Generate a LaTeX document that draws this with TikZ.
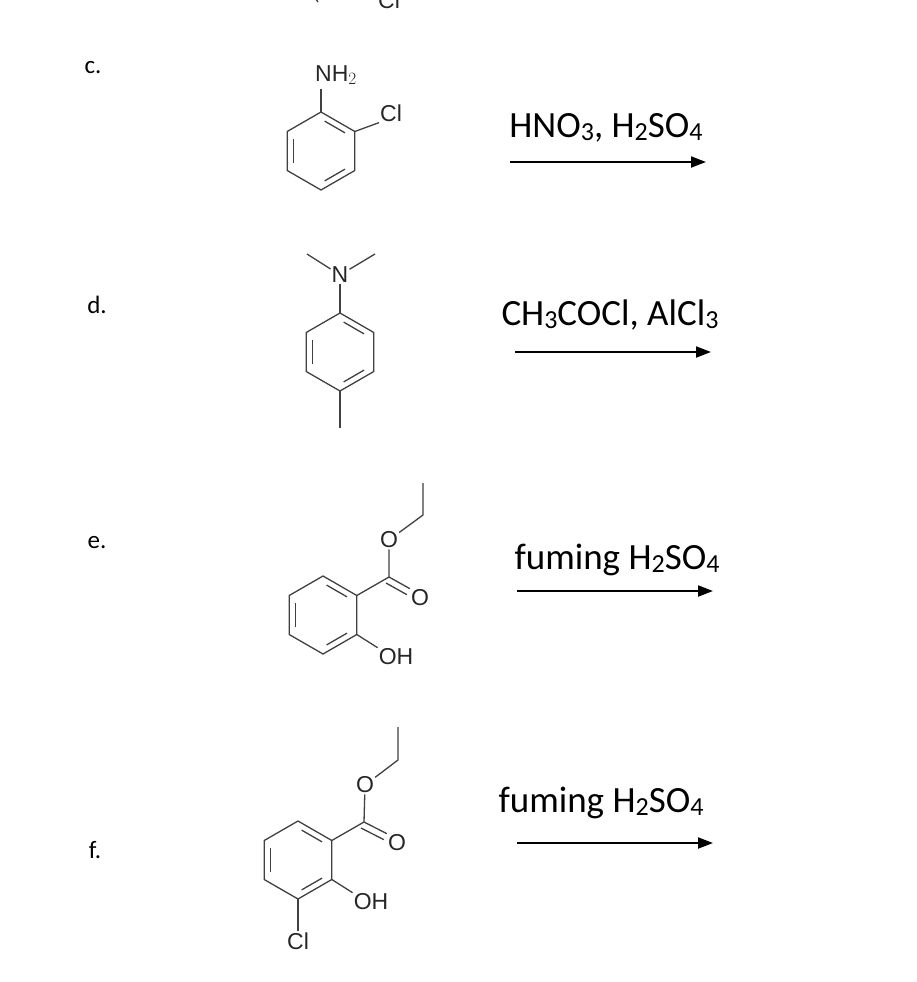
\documentclass[tikz,border=0pt]{standalone}
\usepackage{fontspec}
\setmainfont{Carlito}
\newfontfamily\atomf{Liberation Sans}
\usetikzlibrary{calc,arrows.meta}
\newcommand\mybenz[3]{%
\begin{scope}[shift={(#2,#3)}]
\coordinate (#1t) at (0,-39); \coordinate (#1ur) at (33.8,-19.5);
\coordinate (#1lr) at (33.8,19.5); \coordinate (#1b) at (0,39);
\coordinate (#1ll) at (-33.8,19.5); \coordinate (#1ul) at (-33.8,-19.5);
\draw[bond] (#1t)--(#1ur)--(#1lr)--(#1b)--(#1ll)--(#1ul)--cycle;
\coordinate (#1it) at (0,-32); \coordinate (#1iur) at (27.7,-16);
\coordinate (#1ilr) at (27.7,16); \coordinate (#1ib) at (0,32);
\coordinate (#1ill) at (-27.7,16); \coordinate (#1iul) at (-27.7,-16);
\draw[bond] ($(#1it)!0.13!(#1iur)$)--($(#1it)!0.87!(#1iur)$);
\draw[bond] ($(#1ilr)!0.13!(#1ib)$)--($(#1ilr)!0.87!(#1ib)$);
\draw[bond] ($(#1ill)!0.13!(#1iul)$)--($(#1ill)!0.87!(#1iul)$);
\end{scope}}
\newcommand\sbs[1]{\raisebox{-3pt}{\fontsize{26}{26}\selectfont #1}}
\begin{document}
\begin{tikzpicture}[x=1pt,y=-1pt,
  bond/.style={line width=1.3pt,draw=black!75},
  atom/.style={font=\atomf\fontsize{23}{23}\selectfont,inner sep=1pt,text=black!85},
  lab/.style={font=\fontsize{25}{25}\selectfont},
  reag/.style={font=\fontsize{37}{37}\selectfont},
  rxn/.style={line width=2pt,-{Triangle[length=15pt,width=11pt]}}]
\useasboundingbox (0,0) rectangle (916,982);
\begin{scope}
\clip (0,0) rectangle (916,982);
\node[atom,anchor=base] (topcl) at (389,9) {Cl};
\draw[bond] (312,-6)--(318,2);
\end{scope}
% labels
\node[lab] (lc) at (93,68) {c.};
\node[lab] (ld) at (97,305) {d.};
\node[lab] (le) at (97,543) {e.};
\node[lab] (lf) at (95,850) {f.};
% c
\mybenz{c}{321}{151}
\node[atom] (cn) at (336,75) {NH$_2$};
\draw[bond] (ct)--(321,89);
\node[atom] (ccl) at (391,113) {Cl};
\draw[bond] (cur)--(ccl.south west);
% d
\mybenz{d}{340}{352}
\node[atom] (dn) at (340,275) {N};
\draw[bond] (dt)--(dn);
\draw[bond] (dn)--(307,254);
\draw[bond] (dn)--(375,254);
\draw[bond] (db)--(340,428);
% e
\mybenz{e}{323}{615}
\coordinate (ec) at (389,577);
\node[atom] (eo1) at (389,540) {O};
\node[atom] (eo2) at (420,598) {O};
\node[atom] (eoh) at (396,657) {OH};
\draw[bond] (eur)--(ec)--(eo1);
\draw[bond] (eo1)--(423,515)--(423,483);
\draw[bond] (ec)--(eo2.north west);
\draw[bond] ($(ec)+(-3,6)$)--($(eo2.north west)+(-3,6)$);
\draw[bond] (elr)--(eoh.north west);
% f
\mybenz{f}{298}{860}
\coordinate (fc) at (364,822);
\node[atom] (fo1) at (365,785) {O};
\node[atom] (fo2) at (397,843) {O};
\node[atom] (foh) at (371,902) {OH};
\node[atom] (fcl) at (298,941) {Cl};
\draw[bond] (fur)--(fc)--(fo1);
\draw[bond] (fo1)--(398,760)--(398,727);
\draw[bond] (fc)--(fo2.north west);
\draw[bond] ($(fc)+(-3,6)$)--($(fo2.north west)+(-3,6)$);
\draw[bond] (flr)--(foh.north west);
\draw[bond] (fb)--(fcl.north);
% reagents
\node[reag] (r1) at (606,128) {HNO\sbs{3}, H\sbs{2}SO\sbs{4}};
\coordinate (a1s) at (510,162); \coordinate (a1e) at (706,162);
\draw[rxn] (a1s)--(a1e);
\node[reag] (r2) at (610,315) {CH\sbs{3}COCl, AlCl\sbs{3}};
\coordinate (a2s) at (515,352); \coordinate (a2e) at (711,352);
\draw[rxn] (a2s)--(a2e);
\node[reag] (r3) at (617,560) {fuming H\sbs{2}SO\sbs{4}};
\coordinate (a3s) at (517,591); \coordinate (a3e) at (713,591);
\draw[rxn] (a3s)--(a3e);
\node[reag] (r4) at (601,803) {fuming H\sbs{2}SO\sbs{4}};
\coordinate (a4s) at (517,843); \coordinate (a4e) at (713,843);
\draw[rxn] (a4s)--(a4e);
\end{tikzpicture}
\end{document}
